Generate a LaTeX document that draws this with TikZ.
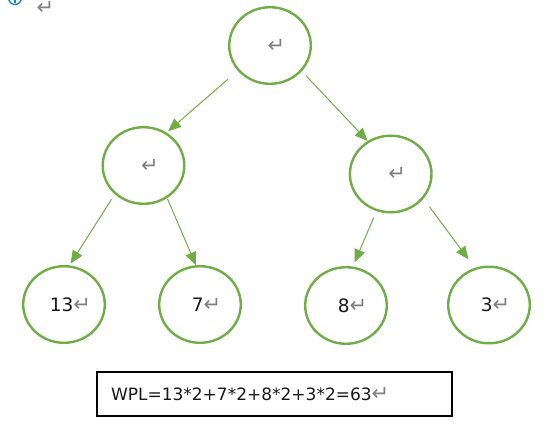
\documentclass[tikz,border=0pt]{standalone}
\usepackage{fontspec}
\setmainfont{DejaVu Sans}
\usetikzlibrary{arrows.meta, shapes.geometric}
\definecolor{treegreen}{RGB}{112, 173, 71}
\definecolor{markgray}{RGB}{128, 128, 128}
\definecolor{anchorblue}{RGB}{30, 130, 215}
\newcommand{\pmark}{{\color{markgray}\fontsize{21}{21}\selectfont ↵}}

\begin{document}
\begin{tikzpicture}[x=1pt, y=-1pt,
    nd/.style={ellipse, draw=treegreen, line width=2.4pt,
               minimum width=81.6pt, minimum height=76.6pt, inner sep=0pt},
    val/.style={font=\fontsize{18.5}{18.5}\selectfont, text=black!90, xshift=6.5pt},
    arr/.style={-{Triangle[length=13pt, width=11pt]}, line width=1pt, treegreen},
  ]
  \useasboundingbox (0,0) rectangle (557,434);

  % word marks at the top
  \draw[anchorblue, line width=1.3pt] (8.5,-2) arc (180:0:6.5);
  \draw[anchorblue, line width=1.3pt] (15,-6) -- (15,3);
  \node[inner sep=0pt] (topmark) at (45.5,8) {\pmark};

  % tree
  \node[nd, label={[val]center:\pmark}] (root) at (270,45.5) {};
  \node[nd, label={[val]center:\pmark}] (lm) at (143.5,165.5) {};
  \node[nd, label={[val]center:\pmark}] (rm) at (390.7,174) {};
  \node[nd, label={[val]center:13\pmark}] (n13) at (64,304.5) {};
  \node[nd, label={[val]center:7\pmark}] (n7) at (200,304.5) {};
  \node[nd, label={[val]center:8\pmark}] (n8) at (346,305.5) {};
  \node[nd, label={[val]center:3\pmark}] (n3) at (489,305) {};

  \draw[arr, shorten <=13pt, shorten >=2pt] (root.218) -- (lm.55);
  \draw[arr, shorten <=6pt] (root.321) -- (rm.125);
  \draw[arr, shorten <=6pt, shorten >=2pt] (lm.225) -- (n13.82);
  \draw[arr, shorten <=1pt] (lm.306) -- (n7.96);
  \draw[arr, shorten <=7pt, shorten >=4.5pt] (rm.249) -- (n8.80);
  \draw[arr, shorten <=10pt, shorten >=10.5pt] (rm.323) -- (n3.111);

  % weighted path length
  \node[draw, line width=2pt, minimum width=355pt, minimum height=44pt,
        text width=327pt, inner xsep=14pt, align=left,
        font=\fontsize{17}{17}\selectfont, text=black!90] (wpl) at (274.5,394)
    {WPL=13*2+7*2+8*2+3*2=63\pmark};
\end{tikzpicture}
\end{document}
